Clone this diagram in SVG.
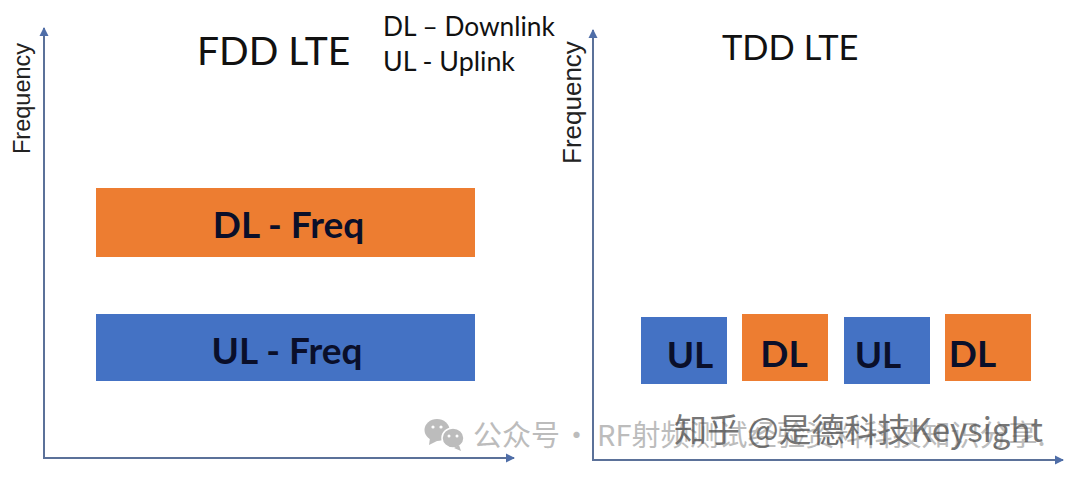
<svg xmlns="http://www.w3.org/2000/svg" width="1080" height="478" viewBox="0 0 1080 478">
<style>
.t{font-family:"Lato","Open Sans","Noto Sans",sans-serif;fill:#111}
.b{font-family:"Lato","Open Sans",sans-serif;font-weight:700;fill:#0a0f2a}
.f{font-family:"Liberation Sans",Arial,sans-serif;fill:#222}
.ax{stroke:#5b7199;stroke-width:2;fill:none;marker-end:url(#ah)}
.o{fill:#ed7d31}.u{fill:#4472c4}
.wm{font-family:"Noto Sans CJK SC","Noto Sans",sans-serif;font-size:29px;fill:#bcbcbc}
.wm2{font-family:"Noto Sans CJK SC","Noto Sans",sans-serif;font-size:33px;fill:#555;opacity:.8}
</style>
<defs><marker id="ah" markerUnits="userSpaceOnUse" markerWidth="10" markerHeight="10" refX="8" refY="5" orient="auto"><path d="M0 0.5L9 5L0 9.5Z" fill="#4f6ea8"/></marker></defs>
<rect width="1080" height="478" fill="#fff"/>
<g id="connectors">
<path class="ax" d="M44 458V28"/>
<path class="ax" d="M43 458H514"/>
<path class="ax" d="M593 461V30"/>
<path class="ax" d="M592 460H1063"/>
</g>
<g id="title-fdd"><text class="t" x="197" y="65" font-size="39">FDD LTE</text></g>
<g id="title-tdd"><text class="t" x="722" y="60" font-size="34.5">TDD LTE</text></g>
<g id="legend"><text class="t" x="383" y="36" font-size="26.3">DL – Downlink</text><text class="t" x="383" y="71" font-size="26.8">UL - Uplink</text></g>
<g id="axis-label-fdd"><text class="f" font-size="23.5" transform="translate(30 154) rotate(-90)">Frequency</text></g>
<g id="axis-label-tdd"><text class="f" font-size="26" transform="translate(581 164) rotate(-90)">Frequency</text></g>
<g id="dl-freq"><rect class="o" x="96" y="188" width="379" height="69"/><text class="b" x="288.500" y="238" font-size="37" text-anchor="middle">DL - Freq</text></g>
<g id="ul-freq"><rect class="u" x="96" y="314" width="379" height="67"/><text class="b" x="287" y="364" font-size="37" text-anchor="middle">UL - Freq</text></g>
<g id="tdd-ul-1"><rect class="u" x="641" y="317" width="86" height="67"/><text class="b" x="690" y="368" font-size="37" text-anchor="middle">UL</text></g>
<g id="tdd-dl-1"><rect class="o" x="742" y="314" width="86" height="67"/><text class="b" x="784" y="367" font-size="37" text-anchor="middle">DL</text></g>
<g id="tdd-ul-2"><rect class="u" x="844" y="317" width="86" height="67"/><text class="b" x="878" y="368" font-size="37" text-anchor="middle">UL</text></g>
<g id="tdd-dl-2"><rect class="o" x="945" y="314" width="86" height="67"/><text class="b" x="972.500" y="367" font-size="37" text-anchor="middle">DL</text></g>
<g id="watermark">
<g fill="#bcbcbc"><ellipse cx="437" cy="430" rx="12.500" ry="11"/><path d="M430 438l-1 7 8-4z"/><ellipse cx="453" cy="438" rx="11" ry="10" stroke="#fff" stroke-width="1.500"/><path d="M459 445l2 6-7-3z"/></g>
<g fill="#fff"><circle cx="433" cy="427" r="1.600"/><circle cx="441" cy="427" r="1.600"/><circle cx="449" cy="436" r="1.500"/><circle cx="457" cy="436" r="1.500"/></g>
<text class="wm" x="473" y="446">公众号</text>
<text class="wm" x="562" y="446">·</text>
<text class="wm" x="597" y="446">RF射频测试经验资料科技知识分享.</text>
<text class="wm2" x="674" y="442">知乎 @是德科技Keysight</text>
</g>
</svg>
